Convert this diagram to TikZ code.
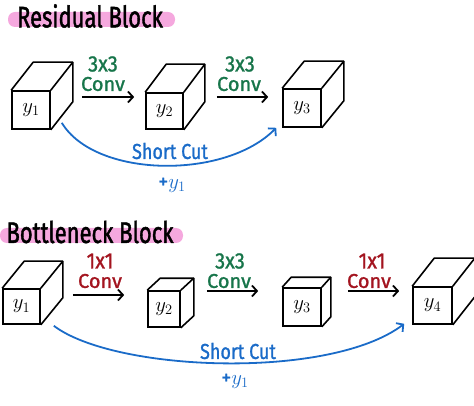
\documentclass[tikz,border=0pt]{standalone}
\usepackage{fontspec}
\setmainfont{Fira Sans}
\newfontfamily\hand[FakeBold=1.2]{Fira Sans}
\newfontfamily\handt[FakeBold=1.6]{Fira Sans}
\usetikzlibrary{arrows.meta,calc}
\definecolor{cgreen}{HTML}{17754A}
\definecolor{cred}{HTML}{A3141F}
\definecolor{cblue}{HTML}{1A6BC8}
\definecolor{cpink}{HTML}{F5A8DE}
\tikzset{
  face/.style={draw, line width=1.6pt, rectangle, inner sep=0pt, fill=white},
  cubeline/.style={line width=1.6pt, line join=round},
  conv/.style={line width=1.8pt, -{Straight Barb[length=5pt,width=11pt,line width=1.8pt]}},
  skip/.style={line width=1.8pt, draw=cblue, -{Straight Barb[length=5pt,width=11pt,line width=1.8pt]}},
  lbl/.style={font=\hand\fontsize{20}{20}\selectfont, inner sep=0pt},
  gl/.style={lbl, text=cgreen},
  rl/.style={lbl, text=cred},
  bl/.style={font=\hand\fontsize{18}{18}\selectfont, inner sep=0pt, text=cblue},
  ttl/.style={font=\handt\fontsize{22}{22}\selectfont, inner sep=0pt},
  hl/.style={fill=cpink, rounded corners=7pt},
}
\newcommand\tall[1]{\scalebox{1}[1.12]{#1}}
\newcommand\mkcube[8]{%
  \node[face, minimum width=#4pt, minimum height=#5pt] (#1) at (#2,#3) {\fontsize{20}{20}\selectfont$#8$};
  \draw[cubeline] (#1.north west) -- ++(#6,#7) -- ($(#1.north east)+(#6,#7)$) -- ($(#1.south east)+(#6,#7)$) -- (#1.south east);
  \draw[cubeline] ($(#1.north east)+(#6,#7)$) -- (#1.north east);
}
\begin{document}
\begin{tikzpicture}[x=1pt,y=-1pt]
\useasboundingbox (0,0) rectangle (474,406);
% titles
\fill[hl] (8,12) rectangle (175,27);
\node[ttl] (t1) at (90,16) {\scalebox{1}[1.35]{Residual Block}};
\fill[hl] (0,228) rectangle (183,243);
\node[ttl] (t2) at (90,232) {\scalebox{1}[1.35]{Bottleneck Block}};
% residual block
\mkcube{c1}{31}{110}{38}{38}{22}{-28}{y_1}
\mkcube{c2}{164.5}{111}{37}{36}{21}{-28}{y_2}
\mkcube{c3}{302}{108}{38}{38}{22}{-27}{y_3}
\draw[conv] ([shift={(31,-13)}]c1.east) -- ([shift={(-11,-14)}]c2.west);
\draw[conv] ([shift={(33,-14)}]c2.east) -- ([shift={(-14,-11)}]c3.west);
\node[gl] (l1a) at (103,64) {\tall{3x3}};
\node[gl] (l1b) at (103,84) {Conv};
\node[gl] (l2a) at (240,64) {\tall{3x3}};
\node[gl] (l2b) at (239,84) {Conv};
\draw[skip] ([shift={(11,-7)}]c1.south east) .. controls (95,178) and (225,180) .. ([shift={(-6,0)}]c3.south west);
\node[bl] (s1) at (170,151) {\scalebox{1}[1.2]{Short Cut}};
\node[bl] (p1) at (172,185) {\fontsize{20}{20}\selectfont+$y_1$};
% bottleneck block
\mkcube{b1}{21.5}{306.5}{37}{35}{22}{-27}{y_1}
\mkcube{b2}{164}{309}{32}{36}{13}{-12}{y_2}
\mkcube{b3}{302}{307}{38}{38}{9}{-10}{y_3}
\mkcube{b4}{432.5}{305.5}{39}{37}{22}{-28}{y_4}
\draw[conv] ([shift={(32,-11.5)}]b1.east) -- ([shift={(-23,-14)}]b2.west);
\draw[conv] ([shift={(26,-18)}]b2.east) -- ([shift={(-24,-16)}]b3.west);
\draw[conv] ([shift={(26,-16)}]b3.east) -- ([shift={(-13,-14.5)}]b4.west);
\node[rl] (m1a) at (100,261) {\tall{1x1}};
\node[rl] (m1b) at (100,281) {Conv};
\node[gl] (m2a) at (230,261) {\tall{3x3}};
\node[gl] (m2b) at (229,281) {Conv};
\node[rl] (m3a) at (372,261) {\tall{1x1}};
\node[rl] (m3b) at (369,281) {Conv};
\draw[skip] ([shift={(13,1)}]b1.south east) .. controls (115,372) and (330,380) .. ([shift={(-8,-1)}]b4.south west);
\node[bl] (s2) at (238,351) {\scalebox{1}[1.2]{Short Cut}};
\node[bl] (p2) at (235,381) {\fontsize{20}{20}\selectfont+$y_1$};
\end{tikzpicture}
\end{document}
